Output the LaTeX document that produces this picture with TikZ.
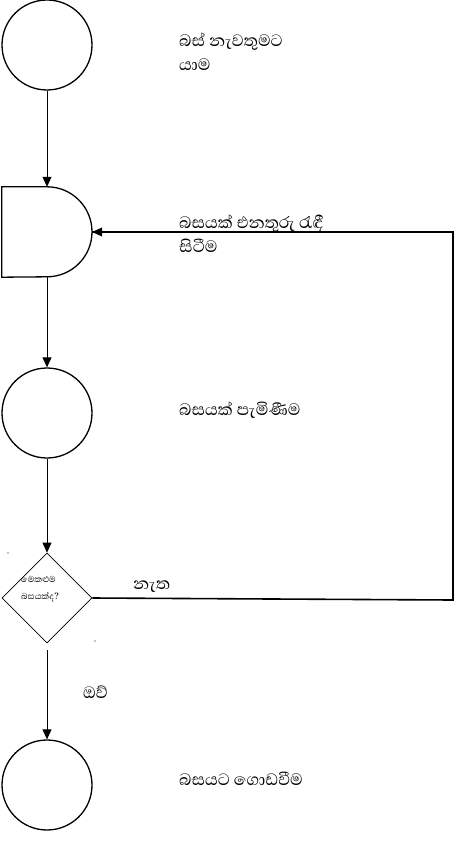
\documentclass[tikz,border=0pt]{standalone}
\usepackage{fontspec}
\newfontfamily\sinfont[Script=Sinhala]{Abhaya Libre}
\usetikzlibrary{shapes.geometric,arrows.meta}
\tikzset{
  proc/.style={draw,circle,minimum size=90pt,inner sep=0pt,line width=1.3pt},
  conn/.style={line width=0.8pt,-{Triangle[length=10pt,width=9pt]}},
  fb/.style={line width=1.6pt},
  lbl/.style={anchor=north west,align=left,inner sep=0pt,font=\sinfont\fontsize{21}{24}\selectfont},
}
\begin{document}
\begin{tikzpicture}[x=1pt,y=-1pt]
\useasboundingbox (0,0) rectangle (456,864);
\node[proc] (go) at (47,45) {};
\node[draw=none,minimum width=90pt,minimum height=90pt,inner sep=0pt] (wait) at (47,232) {};
\draw[line width=1.3pt] (wait.north west) -- (wait.north) arc[start angle=90,end angle=-90,radius=45pt] -- (wait.south west) -- cycle;
\node[proc] (arr) at (47,413) {};
\node[draw,diamond,minimum width=90pt,minimum height=90pt,inner sep=0pt,line width=0.8pt] (dec) at (47,598) {};
\node[proc] (board) at (47,785) {};

\draw[conn] (go.south) -- (wait.north);
\draw[conn] (wait.south) -- (arr.north);
\draw[conn] (arr.south) -- (dec.north);
\coordinate (d0) at (47,650);
\draw[conn] (d0) -- (board.north);

\coordinate (c1) at (453,600);
\draw[fb] (dec.east) -- (c1) |- (92,232);
\draw[conn] (120,232) -- (wait.east);

\node[lbl] (t1) at (179,33) {බස් නැවතුමට\\යාම};
\node[lbl] (t2) at (179,215) {බසයක් එනතුරු රැඳී\\සිටීම};
\node[lbl] (t3) at (179,402) {බසයක් පැමිණීම};
\node[lbl] (t4) at (133,581) {නැත};
\node[lbl] (t5) at (83,686) {ඔව්};
\node[lbl] (t6) at (179,772) {බසයට ගොඩවීම};
\node[anchor=west,align=left,inner sep=0pt,font=\sinfont\fontsize{11}{17}\selectfont] (dq) at (21,589) {මෙකළුම\\බසයක්ද?};

\fill (8,553) circle (0.7pt);
\fill (95,641) circle (0.7pt);
\end{tikzpicture}
\end{document}
